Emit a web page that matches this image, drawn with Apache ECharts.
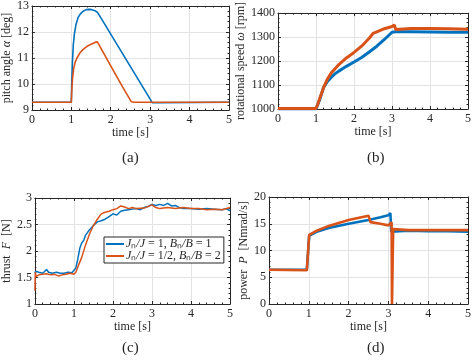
<!DOCTYPE html>
<html><head><meta charset="utf-8">
<script src="https://cdn.jsdelivr.net/npm/echarts@6/dist/echarts.min.js"></script>
<style>html,body{margin:0;padding:0;background:#fff}#c{width:474px;height:361px}</style>
</head><body><div id="c"></div>
<script>
// ---------- data ----------
const timeTicks = [0, 1, 2, 3, 4, 5];
const legendNames = ['Jₙ/J = 1, Bₙ/B = 1', 'Jₙ/J = 1/2, Bₙ/B = 2'];

// (a) pitch angle [deg]
const pitchBlueT = [0,1.0,1.01,1.03,1.05,1.08,1.12,1.17,1.23,1.3,1.38,1.45,1.52,1.6,1.66,1.72,2.0,2.5,3.0,3.05,3.1,3.2,5];
const pitchBlue  = [9.3,9.3,10.0,10.9,11.5,11.95,12.3,12.55,12.7,12.8,12.86,12.87,12.86,12.82,12.76,12.62,11.92,10.67,9.42,9.28,9.22,9.28,9.3];
const pitchOrangeT = [0,1.0,1.01,1.03,1.06,1.1,1.15,1.22,1.3,1.4,1.5,1.6,1.66,1.7,2.0,2.3,2.52,2.6,5];
const pitchOrange  = [9.3,9.3,9.7,10.2,10.6,10.85,11.02,11.2,11.33,11.45,11.53,11.6,11.62,11.55,10.7,9.89,9.32,9.3,9.3];

// (b) rotational speed [rpm]
const speedBlueT = [0,1.0,1.05,1.1,1.2,1.3,1.4,1.5,1.6,1.8,2.0,2.2,2.4,2.6,2.8,3.0,3.05,3.1,3.5,4,4.5,5];
const speedBlue  = [1000,1000,1020,1040,1090,1115,1132,1147,1158,1178,1196,1215,1238,1262,1290,1320,1326,1322,1322,1321,1320,1320];
const speedOrangeT = [0,1.0,1.05,1.1,1.2,1.3,1.4,1.5,1.6,1.8,2.0,2.2,2.4,2.5,2.6,2.8,3.0,3.06,3.1,3.5,4,4.5,5];
const speedOrange  = [1002,1002,1022,1045,1090,1125,1150,1168,1185,1213,1236,1262,1295,1315,1322,1335,1344,1350,1332,1336,1336,1335,1333];

// (c) thrust [N]
const thrustBlueT = [0,0.02,0.1,0.2,0.3,0.35,0.45,0.55,0.65,0.75,0.85,0.95,1.0,1.05,1.1,1.15,1.2,1.25,1.3,1.4,1.5,1.6,1.7,1.8,1.9,2.0,2.1,2.2,2.3,2.4,2.5,2.6,2.7,2.8,2.9,3.0,3.1,3.2,3.3,3.4,3.5,3.6,3.7,3.8,4.0,4.2,4.4,4.6,4.8,4.9,5.0];
const thrustBlue  = [1.58,1.62,1.6,1.58,1.65,1.6,1.58,1.6,1.58,1.58,1.6,1.59,1.6,1.68,1.85,2.05,2.15,2.2,2.3,2.4,2.48,2.55,2.57,2.6,2.65,2.7,2.68,2.75,2.77,2.78,2.79,2.8,2.78,2.82,2.84,2.88,2.86,2.88,2.86,2.9,2.85,2.86,2.82,2.8,2.8,2.79,2.8,2.79,2.78,2.8,2.76];
const thrustOrangeT = [0,0.01,0.03,0.1,0.2,0.3,0.4,0.5,0.6,0.7,0.8,0.9,1.0,1.05,1.1,1.2,1.3,1.4,1.5,1.6,1.7,1.8,1.9,2.0,2.1,2.2,2.3,2.4,2.5,2.6,2.8,3.0,3.1,3.2,3.4,3.6,3.8,4.0,4.2,4.4,4.6,4.8,5.0];
const thrustOrange  = [1.25,1.6,1.52,1.55,1.56,1.57,1.55,1.56,1.53,1.55,1.56,1.58,1.56,1.6,1.7,1.88,2.12,2.32,2.48,2.6,2.7,2.73,2.75,2.78,2.8,2.85,2.83,2.8,2.82,2.8,2.81,2.87,2.82,2.8,2.82,2.8,2.82,2.8,2.8,2.78,2.79,2.78,2.82];

// (d) power [Nmrad/s]
const powerBlueT = [0,0.95,1.0,1.01,1.2,1.5,2.0,2.5,2.8,3.0,3.05,3.07,3.1,3.5,4,4.5,5];
const powerBlue  = [6.4,6.4,6.3,12.8,13.5,14.2,15.0,15.7,16.2,16.6,17.0,13.5,13.6,13.7,13.6,13.6,13.5];
const powerOrangeT = [0,0.95,1.0,1.01,1.2,1.5,2.0,2.5,2.52,2.55,2.8,3.0,3.05,3.08,3.09,3.1,3.12,3.5,4,4.5,5];
const powerOrange  = [6.4,6.3,6.2,12.9,13.7,14.6,15.7,16.5,16.7,15.3,15.0,14.7,14.5,15.3,0,0,14.0,13.8,13.8,13.8,13.8];

// ---------- chart ----------
const BLUE = '#0072BD', ORANGE = '#D95319', INK = '#262626';
const FONT = 'Liberation Serif';
const zip = (t, v) => t.map((x, i) => [x, v[i]]);

const grids = [
  {left: 28, top: 4, width: 201, height: 106},
  {left: 278, top: 7, width: 192, height: 102},
  {left: 29, top: 198, width: 201, height: 106},
  {left: 269, top: 197, width: 202, height: 107}
];
const yCfg = [
  {min: 9, max: 13, interval: 1, name: '{n|pitch angle }{i|α}{n| [deg]}', gap: 12},
  {min: 1000, max: 1400, interval: 100, name: '{n|rotational speed }{i|ω}{n| [rpm]}', gap: 30},
  {min: 1, max: 3, interval: 0.5, name: '{n|thrust  }{i|F}{n|  [N]}', gap: 18},
  {min: 0, max: 20, interval: 5, name: '{n|power  }{i|P}{n|  [Nmrad/s]}', gap: 15}
];
const rich = {n: {fontFamily: FONT, fontSize: 12, color: INK}, i: {fontFamily: FONT, fontSize: 12, fontStyle: 'italic', color: INK}};
const legendRich = ['{i|J}{n|ₙ}{i|/J}{n| = 1, }{i|B}{n|ₙ}{i|/B}{n| = 1}', '{i|J}{n|ₙ}{i|/J}{n| = 1/2, }{i|B}{n|ₙ}{i|/B}{n| = 2}'];

const xAxis = [], yAxis = [], series = [];
grids.forEach((g, k) => {
  xAxis.push({gridIndex: k, type: 'value', min: 0, max: 5, interval: 1, position: 'bottom',
    name: 'time [s]', nameLocation: 'middle', nameGap: 16,
    nameTextStyle: {fontFamily: FONT, fontSize: 12, color: INK},
    axisLine: {show: true, onZero: false, lineStyle: {color: INK, width: 1}},
    axisTick: {inside: true, length: 3, lineStyle: {color: INK}},
    minorTick: {show: true, splitNumber: 5, length: 1.5, lineStyle: {color: INK}},
    axisLabel: {fontFamily: FONT, fontSize: 12, color: INK, margin: 4,
      formatter: v => timeTicks.includes(v) ? String(v) : ''},
    splitLine: {show: true, lineStyle: {color: '#e3e3e3', width: 1}}});
  xAxis.push({gridIndex: k, type: 'value', min: 0, max: 5, interval: 1, position: 'top',
    axisLine: {show: true, onZero: false, lineStyle: {color: INK, width: 1}},
    axisTick: {inside: true, length: 3, lineStyle: {color: INK}},
    minorTick: {show: true, splitNumber: 5, length: 1.5, lineStyle: {color: INK}},
    axisLabel: {show: false}, splitLine: {show: false}});
  const y = yCfg[k];
  yAxis.push({gridIndex: k, type: 'value', min: y.min, max: y.max, interval: y.interval, position: 'left',
    name: y.name, nameLocation: 'middle', nameGap: y.gap, nameRotate: 90,
    nameTextStyle: {rich: rich, fontFamily: FONT, fontSize: 12, color: INK},
    axisLine: {show: true, onZero: false, lineStyle: {color: INK, width: 1}},
    axisTick: {inside: true, length: 3, lineStyle: {color: INK}},
    minorTick: {show: true, splitNumber: 5, length: 1.5, lineStyle: {color: INK}},
    axisLabel: {fontFamily: FONT, fontSize: 12, color: INK, margin: 3, formatter: v => String(v)},
    splitLine: {show: true, lineStyle: {color: '#e3e3e3', width: 1}}});
  yAxis.push({gridIndex: k, type: 'value', min: y.min, max: y.max, interval: y.interval, position: 'right',
    axisLine: {show: true, onZero: false, lineStyle: {color: INK, width: 1}},
    axisTick: {inside: true, length: 3, lineStyle: {color: INK}},
    minorTick: {show: true, splitNumber: 5, length: 1.5, lineStyle: {color: INK}},
    axisLabel: {show: false}, splitLine: {show: false}});
});

const panelData = [
  [zip(pitchBlueT, pitchBlue), zip(pitchOrangeT, pitchOrange), 1.6],
  [zip(speedBlueT, speedBlue), zip(speedOrangeT, speedOrange), 3],
  [zip(thrustBlueT, thrustBlue), zip(thrustOrangeT, thrustOrange), 1.5],
  [zip(powerBlueT, powerBlue), zip(powerOrangeT, powerOrange), 2.6]
];
panelData.forEach((p, k) => {
  [[p[0], BLUE, legendNames[0]], [p[1], ORANGE, legendNames[1]]].forEach(([d, c, nm]) => {
    series.push({type: 'line', name: nm, xAxisIndex: 2 * k, yAxisIndex: 2 * k, data: d,
      showSymbol: false, symbol: 'none', animation: false,
      lineStyle: {color: c, width: p[2]}, itemStyle: {color: c}});
  });
});

const chart = echarts.init(document.getElementById('c'), null, {renderer: 'canvas'});
chart.setOption({
  backgroundColor: '#fff',
  animation: false,
  grid: grids.map(g => Object.assign({show: false, containLabel: false}, g)),
  xAxis, yAxis, series,
  legend: {data: legendNames, orient: 'vertical', left: 104, top: 237,
    backgroundColor: '#fff', borderColor: INK, borderWidth: 1, borderRadius: 0,
    padding: [1, 3, 1, 2], itemGap: 0, itemWidth: 18, itemHeight: 2, icon: 'rect',
    selectedMode: false,
    formatter: name => legendRich[legendNames.indexOf(name)],
    textStyle: {fontFamily: FONT, fontSize: 12, color: INK, padding: [0, 0, 0, -3], rich: rich}},
  graphic: [
    {type: 'text', left: 122, top: 151, style: {text: '(a)', font: '15px "Liberation Serif"', fill: INK}},
    {type: 'text', left: 367, top: 151, style: {text: '(b)', font: '15px "Liberation Serif"', fill: INK}},
    {type: 'text', left: 122, top: 341, style: {text: '(c)', font: '15px "Liberation Serif"', fill: INK}},
    {type: 'text', left: 367, top: 341, style: {text: '(d)', font: '15px "Liberation Serif"', fill: INK}}
  ]
});
</script></body></html>
